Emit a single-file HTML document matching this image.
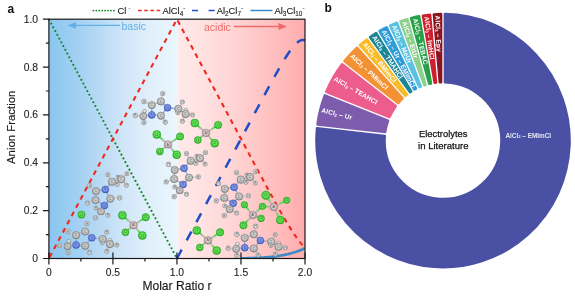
<!DOCTYPE html>
<html><head><meta charset="utf-8">
<style>
html,body{margin:0;padding:0;background:#fff;}
body{width:575px;height:296px;overflow:hidden;}
svg{display:block;will-change:transform;}
text{font-family:"Liberation Sans",sans-serif;}
</style></head><body>
<svg width="575" height="296" viewBox="0 0 575 296">
<defs>
<linearGradient id="gb" x1="0" x2="1" y1="0" y2="0"><stop offset="0.000" stop-color="#89c6ef"/><stop offset="0.242" stop-color="#a5d1f2"/><stop offset="0.428" stop-color="#bcdcf5"/><stop offset="0.552" stop-color="#cde4f8"/><stop offset="0.708" stop-color="#dcecfa"/><stop offset="0.863" stop-color="#e4f2fc"/><stop offset="1.000" stop-color="#eaf6fd"/></linearGradient>
<linearGradient id="gr" x1="0" x2="1" y1="0" y2="0"><stop offset="0.000" stop-color="#ffe9e9"/><stop offset="0.125" stop-color="#ffe5e5"/><stop offset="0.250" stop-color="#ffdfdf"/><stop offset="0.375" stop-color="#ffd8d8"/><stop offset="0.500" stop-color="#ffd0d0"/><stop offset="0.625" stop-color="#ffc8c8"/><stop offset="0.750" stop-color="#ffbfbf"/><stop offset="0.875" stop-color="#ffb6b6"/><stop offset="1.000" stop-color="#ffacac"/></linearGradient>
<radialGradient id="aC" cx="0.5" cy="0.45" r="0.55"><stop offset="0" stop-color="#d8d8d8"/><stop offset="0.55" stop-color="#c2c2c2"/><stop offset="0.8" stop-color="#a4a4a4"/><stop offset="1" stop-color="#777"/></radialGradient>
<radialGradient id="aN" cx="0.5" cy="0.45" r="0.55"><stop offset="0" stop-color="#98aef2"/><stop offset="0.55" stop-color="#7690e8"/><stop offset="0.8" stop-color="#5573da"/><stop offset="1" stop-color="#3450b0"/></radialGradient>
<radialGradient id="aH" cx="0.5" cy="0.45" r="0.55"><stop offset="0" stop-color="#ececec"/><stop offset="0.5" stop-color="#dadada"/><stop offset="0.8" stop-color="#bdbdbd"/><stop offset="1" stop-color="#8a8a8a"/></radialGradient>
<radialGradient id="aCl" cx="0.5" cy="0.45" r="0.55"><stop offset="0" stop-color="#80ea70"/><stop offset="0.55" stop-color="#52dc46"/><stop offset="0.8" stop-color="#3cc834"/><stop offset="1" stop-color="#1f961c"/></radialGradient>
<radialGradient id="aAl" cx="0.5" cy="0.45" r="0.55"><stop offset="0" stop-color="#e2d6d6"/><stop offset="0.55" stop-color="#d0c2c2"/><stop offset="0.8" stop-color="#b8a6a6"/><stop offset="1" stop-color="#86767a"/></radialGradient>
</defs>

<rect x="48.9" y="19.2" width="128.60" height="239.30" fill="url(#gb)"/>
<rect x="177.50" y="19.2" width="127.50" height="239.30" fill="url(#gr)"/>
<g stroke="#62b0e6" fill="#62b0e6"><line x1="75" y1="25.4" x2="120" y2="25.4" stroke-width="1.3"/><path d="M67.5,25.4 L76,22 L76,28.8 Z" stroke="none"/></g>
<text x="121.5" y="29.6" font-size="10.5" fill="#62b0e6">basic</text>
<g stroke="#ee6b6b" fill="#ee6b6b"><line x1="234" y1="26.5" x2="280" y2="26.5" stroke-width="1.3"/><path d="M287,26.5 L278.5,23.1 L278.5,29.9 Z" stroke="none"/></g>
<text x="204" y="30.5" font-size="10.5" fill="#ee6b6b">acidic</text>
<clipPath id="pc"><rect x="48.9" y="19.2" width="256.10" height="238.70"/></clipPath>
<path d="M240.98,258.34 L241.78,258.33 L242.58,258.31 L243.38,258.30 L244.18,258.28 L244.98,258.27 L245.78,258.25 L246.58,258.23 L247.38,258.22 L248.18,258.20 L248.98,258.17 L249.78,258.15 L250.58,258.13 L251.38,258.10 L252.18,258.08 L252.98,258.05 L253.78,258.02 L254.58,257.99 L255.38,257.96 L256.18,257.92 L256.98,257.89 L257.78,257.85 L258.58,257.81 L259.38,257.77 L260.18,257.72 L260.98,257.68 L261.78,257.63 L262.58,257.58 L263.38,257.53 L264.18,257.47 L264.98,257.41 L265.78,257.35 L266.58,257.29 L267.39,257.22 L268.19,257.15 L268.99,257.08 L269.79,257.01 L270.59,256.93 L271.39,256.84 L272.19,256.76 L272.99,256.67 L273.79,256.58 L274.59,256.48 L275.39,256.38 L276.19,256.27 L276.99,256.16 L277.79,256.05 L278.59,255.93 L279.39,255.80 L280.19,255.67 L280.99,255.54 L281.79,255.40 L282.59,255.26 L283.39,255.11 L284.19,254.95 L284.99,254.79 L285.79,254.62 L286.59,254.44 L287.39,254.26 L288.19,254.08 L288.99,253.88 L289.79,253.68 L290.59,253.47 L291.39,253.26 L292.19,253.03 L293.00,252.80 L293.80,252.56 L294.60,252.31 L295.40,252.05 L296.20,251.79 L297.00,251.51 L297.80,251.23 L298.60,250.94 L299.40,250.63 L300.20,250.32 L301.00,249.99 L301.80,249.66 L302.60,249.31 L303.40,248.96 L304.20,248.59 L305.00,248.21" fill="none" stroke="#3d8cc8" stroke-width="2.7" clip-path="url(#pc)"/>
<line x1="48.9" y1="19.19999999999999" x2="176.95000000000002" y2="258.5" stroke="#138a1f" stroke-width="2.2" stroke-dasharray="0 4.248" stroke-dashoffset="-5.0" stroke-linecap="round"/>
<path d="M48.9,258.5 L176.95,19.20 178.55,22.19 180.15,25.18 181.75,28.17 183.35,31.16 184.95,34.16 186.55,37.15 188.15,40.14 189.76,43.13 191.36,46.12 192.96,49.11 194.56,52.10 196.16,55.09 197.76,58.09 199.36,61.08 200.96,64.07 202.56,67.06 204.16,70.05 205.76,73.04 207.36,76.03 208.96,79.02 210.56,82.02 212.16,85.01 213.76,88.00 215.37,90.99 216.97,93.98 218.57,96.97 220.17,99.96 221.77,102.95 223.37,105.95 224.97,108.94 226.57,111.93 228.17,114.92 229.77,117.91 231.37,120.90 232.97,123.89 234.57,126.88 236.17,129.87 237.77,132.86 239.37,135.85 240.98,138.84 242.58,141.83 244.18,144.82 245.78,147.81 247.38,150.80 248.98,153.79 250.58,156.77 252.18,159.76 253.78,162.74 255.38,165.72 256.98,168.70 258.58,171.67 260.18,174.65 261.78,177.62 263.38,180.58 264.98,183.54 266.58,186.49 268.19,189.43 269.79,192.37 271.39,195.29 272.99,198.21 274.59,201.11 276.19,203.99 277.79,206.85 279.39,209.69 280.99,212.51 282.59,215.30 284.19,218.06 285.79,220.77 287.39,223.45 288.99,226.08 290.59,228.65 292.19,231.15 293.80,233.59 295.40,235.95 297.00,238.21 298.60,240.38 300.20,242.43 301.80,244.35 303.40,246.12 305.00,247.73" fill="none" stroke="#f02a1e" stroke-width="2.1" stroke-dasharray="4.8 4.56" stroke-dashoffset="-1.36"/>
<path d="M176.95,258.50 L178.55,255.51 L180.15,252.52 L181.75,249.53 L183.35,246.53 L184.95,243.54 L186.55,240.55 L188.15,237.56 L189.76,234.57 L191.36,231.58 L192.96,228.59 L194.56,225.60 L196.16,222.61 L197.76,219.61 L199.36,216.62 L200.96,213.63 L202.56,210.64 L204.16,207.65 L205.76,204.66 L207.36,201.67 L208.96,198.68 L210.56,195.68 L212.16,192.69 L213.76,189.70 L215.37,186.71 L216.97,183.72 L218.57,180.73 L220.17,177.74 L221.77,174.75 L223.37,171.75 L224.97,168.76 L226.57,165.77 L228.17,162.78 L229.77,159.79 L231.37,156.80 L232.97,153.81 L234.57,150.82 L236.17,147.82 L237.77,144.83 L239.37,141.84 L240.98,138.85 L242.58,135.86 L244.18,132.87 L245.78,129.88 L247.38,126.89 L248.98,123.90 L250.58,120.91 L252.18,117.92 L253.78,114.94 L255.38,111.95 L256.98,108.97 L258.58,105.99 L260.18,103.01 L261.78,100.03 L263.38,97.06 L264.98,94.09 L266.58,91.13 L268.19,88.18 L269.79,85.24 L271.39,82.31 L272.99,79.40 L274.59,76.51 L276.19,73.64 L277.79,70.80 L279.39,67.99 L280.99,65.23 L282.59,62.51 L284.19,59.86 L285.79,57.27 L287.39,54.78 L288.99,52.38 L290.59,50.11 L292.19,47.98 L293.80,46.02 L295.40,44.27 L297.00,42.75 L298.60,41.50 L300.20,40.59 L301.80,40.06 L303.40,39.97 L305.00,40.40" fill="none" stroke="#1f4ec6" stroke-width="2.5" stroke-dasharray="10 10.6"/>
<g><line x1="85.20" y1="231.60" x2="80.65" y2="233.40" stroke="#b4b4b4" stroke-width="1.4"/><line x1="80.65" y1="233.40" x2="76.10" y2="235.20" stroke="#b4b4b4" stroke-width="1.4"/><line x1="76.10" y1="235.20" x2="76.10" y2="240.10" stroke="#b4b4b4" stroke-width="1.4"/><line x1="76.10" y1="240.10" x2="76.10" y2="245.00" stroke="#8aa0e4" stroke-width="1.4"/><line x1="76.10" y1="245.00" x2="80.65" y2="245.40" stroke="#8aa0e4" stroke-width="1.4"/><line x1="80.65" y1="245.40" x2="85.20" y2="245.80" stroke="#b4b4b4" stroke-width="1.4"/><line x1="85.20" y1="245.80" x2="88.50" y2="241.80" stroke="#b4b4b4" stroke-width="1.4"/><line x1="88.50" y1="241.80" x2="91.80" y2="237.80" stroke="#8aa0e4" stroke-width="1.4"/><line x1="91.80" y1="237.80" x2="88.50" y2="234.70" stroke="#8aa0e4" stroke-width="1.4"/><line x1="88.50" y1="234.70" x2="85.20" y2="231.60" stroke="#b4b4b4" stroke-width="1.4"/><line x1="85.20" y1="231.60" x2="86.10" y2="227.60" stroke="#b4b4b4" stroke-width="1.4"/><line x1="86.10" y1="227.60" x2="87.00" y2="223.60" stroke="#d0d0d0" stroke-width="1.4"/><line x1="76.10" y1="235.20" x2="72.15" y2="233.40" stroke="#b4b4b4" stroke-width="1.4"/><line x1="72.15" y1="233.40" x2="68.20" y2="231.60" stroke="#d0d0d0" stroke-width="1.4"/><line x1="85.20" y1="245.80" x2="87.40" y2="249.05" stroke="#b4b4b4" stroke-width="1.4"/><line x1="87.40" y1="249.05" x2="89.60" y2="252.30" stroke="#d0d0d0" stroke-width="1.4"/><line x1="76.10" y1="245.00" x2="71.85" y2="245.60" stroke="#8aa0e4" stroke-width="1.4"/><line x1="71.85" y1="245.60" x2="67.60" y2="246.20" stroke="#b4b4b4" stroke-width="1.4"/><line x1="67.60" y1="246.20" x2="63.60" y2="245.85" stroke="#b4b4b4" stroke-width="1.4"/><line x1="63.60" y1="245.85" x2="59.60" y2="245.50" stroke="#d0d0d0" stroke-width="1.4"/><line x1="67.60" y1="246.20" x2="68.20" y2="243.75" stroke="#b4b4b4" stroke-width="1.4"/><line x1="68.20" y1="243.75" x2="68.80" y2="241.30" stroke="#d0d0d0" stroke-width="1.4"/><line x1="67.60" y1="246.20" x2="67.90" y2="249.40" stroke="#b4b4b4" stroke-width="1.4"/><line x1="67.90" y1="249.40" x2="68.20" y2="252.60" stroke="#d0d0d0" stroke-width="1.4"/><line x1="91.80" y1="237.80" x2="97.25" y2="238.40" stroke="#8aa0e4" stroke-width="1.4"/><line x1="97.25" y1="238.40" x2="102.70" y2="239.00" stroke="#b4b4b4" stroke-width="1.4"/><line x1="102.70" y1="239.00" x2="104.70" y2="235.55" stroke="#b4b4b4" stroke-width="1.4"/><line x1="104.70" y1="235.55" x2="106.70" y2="232.10" stroke="#d0d0d0" stroke-width="1.4"/><line x1="102.70" y1="239.00" x2="102.40" y2="240.95" stroke="#b4b4b4" stroke-width="1.4"/><line x1="102.40" y1="240.95" x2="102.10" y2="242.90" stroke="#d0d0d0" stroke-width="1.4"/><line x1="102.70" y1="239.00" x2="106.30" y2="241.55" stroke="#b4b4b4" stroke-width="1.4"/><line x1="106.30" y1="241.55" x2="109.90" y2="244.10" stroke="#b4b4b4" stroke-width="1.4"/><line x1="109.90" y1="244.10" x2="110.00" y2="242.15" stroke="#b4b4b4" stroke-width="1.4"/><line x1="110.00" y1="242.15" x2="110.10" y2="240.20" stroke="#d0d0d0" stroke-width="1.4"/><line x1="109.90" y1="244.10" x2="113.35" y2="244.55" stroke="#b4b4b4" stroke-width="1.4"/><line x1="113.35" y1="244.55" x2="116.80" y2="245.00" stroke="#d0d0d0" stroke-width="1.4"/><line x1="109.90" y1="244.10" x2="108.30" y2="247.70" stroke="#b4b4b4" stroke-width="1.4"/><line x1="108.30" y1="247.70" x2="106.70" y2="251.30" stroke="#d0d0d0" stroke-width="1.4"/><circle cx="68.80" cy="241.30" r="1.95" fill="url(#aH)" stroke="#8e8e8e" stroke-width="0.45"/><circle cx="110.10" cy="240.20" r="1.95" fill="url(#aH)" stroke="#8e8e8e" stroke-width="0.45"/><circle cx="87.00" cy="223.60" r="2.35" fill="url(#aH)" stroke="#8e8e8e" stroke-width="0.45"/><text x="87.00" y="224.60" font-size="2.8" fill="#2a2a2a" fill-opacity="0.8" text-anchor="middle">H</text><circle cx="68.20" cy="231.60" r="2.45" fill="url(#aH)" stroke="#8e8e8e" stroke-width="0.45"/><text x="68.20" y="232.60" font-size="2.8" fill="#2a2a2a" fill-opacity="0.8" text-anchor="middle">H</text><circle cx="89.60" cy="252.30" r="2.35" fill="url(#aH)" stroke="#8e8e8e" stroke-width="0.45"/><text x="89.60" y="253.30" font-size="2.8" fill="#2a2a2a" fill-opacity="0.8" text-anchor="middle">H</text><circle cx="59.60" cy="245.50" r="2.35" fill="url(#aH)" stroke="#8e8e8e" stroke-width="0.45"/><text x="59.60" y="246.50" font-size="2.8" fill="#2a2a2a" fill-opacity="0.8" text-anchor="middle">H</text><circle cx="68.20" cy="252.60" r="2.35" fill="url(#aH)" stroke="#8e8e8e" stroke-width="0.45"/><text x="68.20" y="253.60" font-size="2.8" fill="#2a2a2a" fill-opacity="0.8" text-anchor="middle">H</text><circle cx="106.70" cy="232.10" r="2.25" fill="url(#aH)" stroke="#8e8e8e" stroke-width="0.45"/><text x="106.70" y="233.10" font-size="2.8" fill="#2a2a2a" fill-opacity="0.8" text-anchor="middle">H</text><circle cx="116.80" cy="245.00" r="2.25" fill="url(#aH)" stroke="#8e8e8e" stroke-width="0.45"/><text x="116.80" y="246.00" font-size="2.8" fill="#2a2a2a" fill-opacity="0.8" text-anchor="middle">H</text><circle cx="106.70" cy="251.30" r="2.25" fill="url(#aH)" stroke="#8e8e8e" stroke-width="0.45"/><text x="106.70" y="252.30" font-size="2.8" fill="#2a2a2a" fill-opacity="0.8" text-anchor="middle">H</text><circle cx="85.20" cy="231.60" r="3.70" fill="url(#aC)" stroke="#7a7a7a" stroke-width="0.45"/><text x="85.20" y="232.60" font-size="2.8" fill="#2a2a2a" fill-opacity="0.8" text-anchor="middle">C</text><circle cx="76.10" cy="235.20" r="3.70" fill="url(#aC)" stroke="#7a7a7a" stroke-width="0.45"/><text x="76.10" y="236.20" font-size="2.8" fill="#2a2a2a" fill-opacity="0.8" text-anchor="middle">C</text><circle cx="76.10" cy="245.00" r="3.50" fill="url(#aN)" stroke="#3a55b0" stroke-width="0.45"/><text x="76.10" y="246.00" font-size="2.8" fill="#2a2a2a" fill-opacity="0.8" text-anchor="middle">N</text><circle cx="85.20" cy="245.80" r="3.70" fill="url(#aC)" stroke="#7a7a7a" stroke-width="0.45"/><text x="85.20" y="246.80" font-size="2.8" fill="#2a2a2a" fill-opacity="0.8" text-anchor="middle">C</text><circle cx="91.80" cy="237.80" r="3.50" fill="url(#aN)" stroke="#3a55b0" stroke-width="0.45"/><text x="91.80" y="238.80" font-size="2.8" fill="#2a2a2a" fill-opacity="0.8" text-anchor="middle">N</text><circle cx="67.60" cy="246.20" r="3.60" fill="url(#aC)" stroke="#7a7a7a" stroke-width="0.45"/><text x="67.60" y="247.20" font-size="2.8" fill="#2a2a2a" fill-opacity="0.8" text-anchor="middle">C</text><circle cx="102.70" cy="239.00" r="3.80" fill="url(#aC)" stroke="#7a7a7a" stroke-width="0.45"/><text x="102.70" y="240.00" font-size="2.8" fill="#2a2a2a" fill-opacity="0.8" text-anchor="middle">C</text><circle cx="109.90" cy="244.10" r="3.80" fill="url(#aC)" stroke="#7a7a7a" stroke-width="0.45"/><text x="109.90" y="245.10" font-size="2.8" fill="#2a2a2a" fill-opacity="0.8" text-anchor="middle">C</text><circle cx="102.10" cy="242.90" r="2.15" fill="url(#aH)" stroke="#8e8e8e" stroke-width="0.45"/><text x="102.10" y="243.90" font-size="2.8" fill="#2a2a2a" fill-opacity="0.8" text-anchor="middle">H</text><line x1="160.90" y1="101.50" x2="156.35" y2="103.30" stroke="#b4b4b4" stroke-width="1.4"/><line x1="156.35" y1="103.30" x2="151.80" y2="105.10" stroke="#b4b4b4" stroke-width="1.4"/><line x1="151.80" y1="105.10" x2="151.80" y2="110.00" stroke="#b4b4b4" stroke-width="1.4"/><line x1="151.80" y1="110.00" x2="151.80" y2="114.90" stroke="#8aa0e4" stroke-width="1.4"/><line x1="151.80" y1="114.90" x2="156.35" y2="115.30" stroke="#8aa0e4" stroke-width="1.4"/><line x1="156.35" y1="115.30" x2="160.90" y2="115.70" stroke="#b4b4b4" stroke-width="1.4"/><line x1="160.90" y1="115.70" x2="164.20" y2="111.70" stroke="#b4b4b4" stroke-width="1.4"/><line x1="164.20" y1="111.70" x2="167.50" y2="107.70" stroke="#8aa0e4" stroke-width="1.4"/><line x1="167.50" y1="107.70" x2="164.20" y2="104.60" stroke="#8aa0e4" stroke-width="1.4"/><line x1="164.20" y1="104.60" x2="160.90" y2="101.50" stroke="#b4b4b4" stroke-width="1.4"/><line x1="160.90" y1="101.50" x2="161.80" y2="97.50" stroke="#b4b4b4" stroke-width="1.4"/><line x1="161.80" y1="97.50" x2="162.70" y2="93.50" stroke="#d0d0d0" stroke-width="1.4"/><line x1="151.80" y1="105.10" x2="147.85" y2="103.30" stroke="#b4b4b4" stroke-width="1.4"/><line x1="147.85" y1="103.30" x2="143.90" y2="101.50" stroke="#d0d0d0" stroke-width="1.4"/><line x1="160.90" y1="115.70" x2="163.10" y2="118.95" stroke="#b4b4b4" stroke-width="1.4"/><line x1="163.10" y1="118.95" x2="165.30" y2="122.20" stroke="#d0d0d0" stroke-width="1.4"/><line x1="151.80" y1="114.90" x2="147.55" y2="115.50" stroke="#8aa0e4" stroke-width="1.4"/><line x1="147.55" y1="115.50" x2="143.30" y2="116.10" stroke="#b4b4b4" stroke-width="1.4"/><line x1="143.30" y1="116.10" x2="139.30" y2="115.75" stroke="#b4b4b4" stroke-width="1.4"/><line x1="139.30" y1="115.75" x2="135.30" y2="115.40" stroke="#d0d0d0" stroke-width="1.4"/><line x1="143.30" y1="116.10" x2="143.90" y2="113.65" stroke="#b4b4b4" stroke-width="1.4"/><line x1="143.90" y1="113.65" x2="144.50" y2="111.20" stroke="#d0d0d0" stroke-width="1.4"/><line x1="143.30" y1="116.10" x2="143.60" y2="119.30" stroke="#b4b4b4" stroke-width="1.4"/><line x1="143.60" y1="119.30" x2="143.90" y2="122.50" stroke="#d0d0d0" stroke-width="1.4"/><line x1="167.50" y1="107.70" x2="172.95" y2="108.30" stroke="#8aa0e4" stroke-width="1.4"/><line x1="172.95" y1="108.30" x2="178.40" y2="108.90" stroke="#b4b4b4" stroke-width="1.4"/><line x1="178.40" y1="108.90" x2="180.40" y2="105.45" stroke="#b4b4b4" stroke-width="1.4"/><line x1="180.40" y1="105.45" x2="182.40" y2="102.00" stroke="#d0d0d0" stroke-width="1.4"/><line x1="178.40" y1="108.90" x2="178.10" y2="110.85" stroke="#b4b4b4" stroke-width="1.4"/><line x1="178.10" y1="110.85" x2="177.80" y2="112.80" stroke="#d0d0d0" stroke-width="1.4"/><line x1="178.40" y1="108.90" x2="182.00" y2="111.45" stroke="#b4b4b4" stroke-width="1.4"/><line x1="182.00" y1="111.45" x2="185.60" y2="114.00" stroke="#b4b4b4" stroke-width="1.4"/><line x1="185.60" y1="114.00" x2="185.70" y2="112.05" stroke="#b4b4b4" stroke-width="1.4"/><line x1="185.70" y1="112.05" x2="185.80" y2="110.10" stroke="#d0d0d0" stroke-width="1.4"/><line x1="185.60" y1="114.00" x2="189.05" y2="114.45" stroke="#b4b4b4" stroke-width="1.4"/><line x1="189.05" y1="114.45" x2="192.50" y2="114.90" stroke="#d0d0d0" stroke-width="1.4"/><line x1="185.60" y1="114.00" x2="184.00" y2="117.60" stroke="#b4b4b4" stroke-width="1.4"/><line x1="184.00" y1="117.60" x2="182.40" y2="121.20" stroke="#d0d0d0" stroke-width="1.4"/><circle cx="144.50" cy="111.20" r="1.95" fill="url(#aH)" stroke="#8e8e8e" stroke-width="0.45"/><circle cx="185.80" cy="110.10" r="1.95" fill="url(#aH)" stroke="#8e8e8e" stroke-width="0.45"/><circle cx="162.70" cy="93.50" r="2.35" fill="url(#aH)" stroke="#8e8e8e" stroke-width="0.45"/><text x="162.70" y="94.50" font-size="2.8" fill="#2a2a2a" fill-opacity="0.8" text-anchor="middle">H</text><circle cx="143.90" cy="101.50" r="2.45" fill="url(#aH)" stroke="#8e8e8e" stroke-width="0.45"/><text x="143.90" y="102.50" font-size="2.8" fill="#2a2a2a" fill-opacity="0.8" text-anchor="middle">H</text><circle cx="165.30" cy="122.20" r="2.35" fill="url(#aH)" stroke="#8e8e8e" stroke-width="0.45"/><text x="165.30" y="123.20" font-size="2.8" fill="#2a2a2a" fill-opacity="0.8" text-anchor="middle">H</text><circle cx="135.30" cy="115.40" r="2.35" fill="url(#aH)" stroke="#8e8e8e" stroke-width="0.45"/><text x="135.30" y="116.40" font-size="2.8" fill="#2a2a2a" fill-opacity="0.8" text-anchor="middle">H</text><circle cx="143.90" cy="122.50" r="2.35" fill="url(#aH)" stroke="#8e8e8e" stroke-width="0.45"/><text x="143.90" y="123.50" font-size="2.8" fill="#2a2a2a" fill-opacity="0.8" text-anchor="middle">H</text><circle cx="182.40" cy="102.00" r="2.25" fill="url(#aH)" stroke="#8e8e8e" stroke-width="0.45"/><text x="182.40" y="103.00" font-size="2.8" fill="#2a2a2a" fill-opacity="0.8" text-anchor="middle">H</text><circle cx="192.50" cy="114.90" r="2.25" fill="url(#aH)" stroke="#8e8e8e" stroke-width="0.45"/><text x="192.50" y="115.90" font-size="2.8" fill="#2a2a2a" fill-opacity="0.8" text-anchor="middle">H</text><circle cx="182.40" cy="121.20" r="2.25" fill="url(#aH)" stroke="#8e8e8e" stroke-width="0.45"/><text x="182.40" y="122.20" font-size="2.8" fill="#2a2a2a" fill-opacity="0.8" text-anchor="middle">H</text><circle cx="160.90" cy="101.50" r="3.70" fill="url(#aC)" stroke="#7a7a7a" stroke-width="0.45"/><text x="160.90" y="102.50" font-size="2.8" fill="#2a2a2a" fill-opacity="0.8" text-anchor="middle">C</text><circle cx="151.80" cy="105.10" r="3.70" fill="url(#aC)" stroke="#7a7a7a" stroke-width="0.45"/><text x="151.80" y="106.10" font-size="2.8" fill="#2a2a2a" fill-opacity="0.8" text-anchor="middle">C</text><circle cx="151.80" cy="114.90" r="3.50" fill="url(#aN)" stroke="#3a55b0" stroke-width="0.45"/><text x="151.80" y="115.90" font-size="2.8" fill="#2a2a2a" fill-opacity="0.8" text-anchor="middle">N</text><circle cx="160.90" cy="115.70" r="3.70" fill="url(#aC)" stroke="#7a7a7a" stroke-width="0.45"/><text x="160.90" y="116.70" font-size="2.8" fill="#2a2a2a" fill-opacity="0.8" text-anchor="middle">C</text><circle cx="167.50" cy="107.70" r="3.50" fill="url(#aN)" stroke="#3a55b0" stroke-width="0.45"/><text x="167.50" y="108.70" font-size="2.8" fill="#2a2a2a" fill-opacity="0.8" text-anchor="middle">N</text><circle cx="143.30" cy="116.10" r="3.60" fill="url(#aC)" stroke="#7a7a7a" stroke-width="0.45"/><text x="143.30" y="117.10" font-size="2.8" fill="#2a2a2a" fill-opacity="0.8" text-anchor="middle">C</text><circle cx="178.40" cy="108.90" r="3.80" fill="url(#aC)" stroke="#7a7a7a" stroke-width="0.45"/><text x="178.40" y="109.90" font-size="2.8" fill="#2a2a2a" fill-opacity="0.8" text-anchor="middle">C</text><circle cx="185.60" cy="114.00" r="3.80" fill="url(#aC)" stroke="#7a7a7a" stroke-width="0.45"/><text x="185.60" y="115.00" font-size="2.8" fill="#2a2a2a" fill-opacity="0.8" text-anchor="middle">C</text><circle cx="177.80" cy="112.80" r="2.15" fill="url(#aH)" stroke="#8e8e8e" stroke-width="0.45"/><text x="177.80" y="113.80" font-size="2.8" fill="#2a2a2a" fill-opacity="0.8" text-anchor="middle">H</text><line x1="253.80" y1="234.30" x2="249.25" y2="236.10" stroke="#b4b4b4" stroke-width="1.4"/><line x1="249.25" y1="236.10" x2="244.70" y2="237.90" stroke="#b4b4b4" stroke-width="1.4"/><line x1="244.70" y1="237.90" x2="244.70" y2="242.80" stroke="#b4b4b4" stroke-width="1.4"/><line x1="244.70" y1="242.80" x2="244.70" y2="247.70" stroke="#8aa0e4" stroke-width="1.4"/><line x1="244.70" y1="247.70" x2="249.25" y2="248.10" stroke="#8aa0e4" stroke-width="1.4"/><line x1="249.25" y1="248.10" x2="253.80" y2="248.50" stroke="#b4b4b4" stroke-width="1.4"/><line x1="253.80" y1="248.50" x2="257.10" y2="244.50" stroke="#b4b4b4" stroke-width="1.4"/><line x1="257.10" y1="244.50" x2="260.40" y2="240.50" stroke="#8aa0e4" stroke-width="1.4"/><line x1="260.40" y1="240.50" x2="257.10" y2="237.40" stroke="#8aa0e4" stroke-width="1.4"/><line x1="257.10" y1="237.40" x2="253.80" y2="234.30" stroke="#b4b4b4" stroke-width="1.4"/><line x1="253.80" y1="234.30" x2="254.70" y2="230.30" stroke="#b4b4b4" stroke-width="1.4"/><line x1="254.70" y1="230.30" x2="255.60" y2="226.30" stroke="#d0d0d0" stroke-width="1.4"/><line x1="244.70" y1="237.90" x2="240.75" y2="236.10" stroke="#b4b4b4" stroke-width="1.4"/><line x1="240.75" y1="236.10" x2="236.80" y2="234.30" stroke="#d0d0d0" stroke-width="1.4"/><line x1="253.80" y1="248.50" x2="256.00" y2="251.75" stroke="#b4b4b4" stroke-width="1.4"/><line x1="256.00" y1="251.75" x2="258.20" y2="255.00" stroke="#d0d0d0" stroke-width="1.4"/><line x1="244.70" y1="247.70" x2="240.45" y2="248.30" stroke="#8aa0e4" stroke-width="1.4"/><line x1="240.45" y1="248.30" x2="236.20" y2="248.90" stroke="#b4b4b4" stroke-width="1.4"/><line x1="236.20" y1="248.90" x2="232.20" y2="248.55" stroke="#b4b4b4" stroke-width="1.4"/><line x1="232.20" y1="248.55" x2="228.20" y2="248.20" stroke="#d0d0d0" stroke-width="1.4"/><line x1="236.20" y1="248.90" x2="236.80" y2="246.45" stroke="#b4b4b4" stroke-width="1.4"/><line x1="236.80" y1="246.45" x2="237.40" y2="244.00" stroke="#d0d0d0" stroke-width="1.4"/><line x1="236.20" y1="248.90" x2="236.50" y2="252.10" stroke="#b4b4b4" stroke-width="1.4"/><line x1="236.50" y1="252.10" x2="236.80" y2="255.30" stroke="#d0d0d0" stroke-width="1.4"/><line x1="260.40" y1="240.50" x2="265.85" y2="241.10" stroke="#8aa0e4" stroke-width="1.4"/><line x1="265.85" y1="241.10" x2="271.30" y2="241.70" stroke="#b4b4b4" stroke-width="1.4"/><line x1="271.30" y1="241.70" x2="273.30" y2="238.25" stroke="#b4b4b4" stroke-width="1.4"/><line x1="273.30" y1="238.25" x2="275.30" y2="234.80" stroke="#d0d0d0" stroke-width="1.4"/><line x1="271.30" y1="241.70" x2="271.00" y2="243.65" stroke="#b4b4b4" stroke-width="1.4"/><line x1="271.00" y1="243.65" x2="270.70" y2="245.60" stroke="#d0d0d0" stroke-width="1.4"/><line x1="271.30" y1="241.70" x2="274.90" y2="244.25" stroke="#b4b4b4" stroke-width="1.4"/><line x1="274.90" y1="244.25" x2="278.50" y2="246.80" stroke="#b4b4b4" stroke-width="1.4"/><line x1="278.50" y1="246.80" x2="278.60" y2="244.85" stroke="#b4b4b4" stroke-width="1.4"/><line x1="278.60" y1="244.85" x2="278.70" y2="242.90" stroke="#d0d0d0" stroke-width="1.4"/><line x1="278.50" y1="246.80" x2="281.95" y2="247.25" stroke="#b4b4b4" stroke-width="1.4"/><line x1="281.95" y1="247.25" x2="285.40" y2="247.70" stroke="#d0d0d0" stroke-width="1.4"/><line x1="278.50" y1="246.80" x2="276.90" y2="250.40" stroke="#b4b4b4" stroke-width="1.4"/><line x1="276.90" y1="250.40" x2="275.30" y2="254.00" stroke="#d0d0d0" stroke-width="1.4"/><circle cx="237.40" cy="244.00" r="1.95" fill="url(#aH)" stroke="#8e8e8e" stroke-width="0.45"/><circle cx="278.70" cy="242.90" r="1.95" fill="url(#aH)" stroke="#8e8e8e" stroke-width="0.45"/><circle cx="255.60" cy="226.30" r="2.35" fill="url(#aH)" stroke="#8e8e8e" stroke-width="0.45"/><text x="255.60" y="227.30" font-size="2.8" fill="#2a2a2a" fill-opacity="0.8" text-anchor="middle">H</text><circle cx="236.80" cy="234.30" r="2.45" fill="url(#aH)" stroke="#8e8e8e" stroke-width="0.45"/><text x="236.80" y="235.30" font-size="2.8" fill="#2a2a2a" fill-opacity="0.8" text-anchor="middle">H</text><circle cx="258.20" cy="255.00" r="2.35" fill="url(#aH)" stroke="#8e8e8e" stroke-width="0.45"/><text x="258.20" y="256.00" font-size="2.8" fill="#2a2a2a" fill-opacity="0.8" text-anchor="middle">H</text><circle cx="228.20" cy="248.20" r="2.35" fill="url(#aH)" stroke="#8e8e8e" stroke-width="0.45"/><text x="228.20" y="249.20" font-size="2.8" fill="#2a2a2a" fill-opacity="0.8" text-anchor="middle">H</text><circle cx="236.80" cy="255.30" r="2.35" fill="url(#aH)" stroke="#8e8e8e" stroke-width="0.45"/><text x="236.80" y="256.30" font-size="2.8" fill="#2a2a2a" fill-opacity="0.8" text-anchor="middle">H</text><circle cx="275.30" cy="234.80" r="2.25" fill="url(#aH)" stroke="#8e8e8e" stroke-width="0.45"/><text x="275.30" y="235.80" font-size="2.8" fill="#2a2a2a" fill-opacity="0.8" text-anchor="middle">H</text><circle cx="285.40" cy="247.70" r="2.25" fill="url(#aH)" stroke="#8e8e8e" stroke-width="0.45"/><text x="285.40" y="248.70" font-size="2.8" fill="#2a2a2a" fill-opacity="0.8" text-anchor="middle">H</text><circle cx="275.30" cy="254.00" r="2.25" fill="url(#aH)" stroke="#8e8e8e" stroke-width="0.45"/><text x="275.30" y="255.00" font-size="2.8" fill="#2a2a2a" fill-opacity="0.8" text-anchor="middle">H</text><circle cx="253.80" cy="234.30" r="3.70" fill="url(#aC)" stroke="#7a7a7a" stroke-width="0.45"/><text x="253.80" y="235.30" font-size="2.8" fill="#2a2a2a" fill-opacity="0.8" text-anchor="middle">C</text><circle cx="244.70" cy="237.90" r="3.70" fill="url(#aC)" stroke="#7a7a7a" stroke-width="0.45"/><text x="244.70" y="238.90" font-size="2.8" fill="#2a2a2a" fill-opacity="0.8" text-anchor="middle">C</text><circle cx="244.70" cy="247.70" r="3.50" fill="url(#aN)" stroke="#3a55b0" stroke-width="0.45"/><text x="244.70" y="248.70" font-size="2.8" fill="#2a2a2a" fill-opacity="0.8" text-anchor="middle">N</text><circle cx="253.80" cy="248.50" r="3.70" fill="url(#aC)" stroke="#7a7a7a" stroke-width="0.45"/><text x="253.80" y="249.50" font-size="2.8" fill="#2a2a2a" fill-opacity="0.8" text-anchor="middle">C</text><circle cx="260.40" cy="240.50" r="3.50" fill="url(#aN)" stroke="#3a55b0" stroke-width="0.45"/><text x="260.40" y="241.50" font-size="2.8" fill="#2a2a2a" fill-opacity="0.8" text-anchor="middle">N</text><circle cx="236.20" cy="248.90" r="3.60" fill="url(#aC)" stroke="#7a7a7a" stroke-width="0.45"/><text x="236.20" y="249.90" font-size="2.8" fill="#2a2a2a" fill-opacity="0.8" text-anchor="middle">C</text><circle cx="271.30" cy="241.70" r="3.80" fill="url(#aC)" stroke="#7a7a7a" stroke-width="0.45"/><text x="271.30" y="242.70" font-size="2.8" fill="#2a2a2a" fill-opacity="0.8" text-anchor="middle">C</text><circle cx="278.50" cy="246.80" r="3.80" fill="url(#aC)" stroke="#7a7a7a" stroke-width="0.45"/><text x="278.50" y="247.80" font-size="2.8" fill="#2a2a2a" fill-opacity="0.8" text-anchor="middle">C</text><circle cx="270.70" cy="245.60" r="2.15" fill="url(#aH)" stroke="#8e8e8e" stroke-width="0.45"/><text x="270.70" y="246.60" font-size="2.8" fill="#2a2a2a" fill-opacity="0.8" text-anchor="middle">H</text><line x1="105.30" y1="189.40" x2="100.65" y2="190.25" stroke="#8aa0e4" stroke-width="1.4"/><line x1="100.65" y1="190.25" x2="96.00" y2="191.10" stroke="#b4b4b4" stroke-width="1.4"/><line x1="96.00" y1="191.10" x2="95.75" y2="195.60" stroke="#b4b4b4" stroke-width="1.4"/><line x1="95.75" y1="195.60" x2="95.50" y2="200.10" stroke="#b4b4b4" stroke-width="1.4"/><line x1="95.50" y1="200.10" x2="99.95" y2="202.80" stroke="#b4b4b4" stroke-width="1.4"/><line x1="99.95" y1="202.80" x2="104.40" y2="205.50" stroke="#8aa0e4" stroke-width="1.4"/><line x1="104.40" y1="205.50" x2="107.35" y2="202.10" stroke="#8aa0e4" stroke-width="1.4"/><line x1="107.35" y1="202.10" x2="110.30" y2="198.70" stroke="#b4b4b4" stroke-width="1.4"/><line x1="110.30" y1="198.70" x2="107.80" y2="194.05" stroke="#b4b4b4" stroke-width="1.4"/><line x1="107.80" y1="194.05" x2="105.30" y2="189.40" stroke="#8aa0e4" stroke-width="1.4"/><line x1="96.00" y1="191.10" x2="92.85" y2="188.30" stroke="#b4b4b4" stroke-width="1.4"/><line x1="92.85" y1="188.30" x2="89.70" y2="185.50" stroke="#d0d0d0" stroke-width="1.4"/><line x1="95.50" y1="200.10" x2="91.50" y2="201.55" stroke="#b4b4b4" stroke-width="1.4"/><line x1="91.50" y1="201.55" x2="87.50" y2="203.00" stroke="#d0d0d0" stroke-width="1.4"/><line x1="110.30" y1="198.70" x2="114.95" y2="198.30" stroke="#b4b4b4" stroke-width="1.4"/><line x1="114.95" y1="198.30" x2="119.60" y2="197.90" stroke="#d0d0d0" stroke-width="1.4"/><line x1="104.40" y1="205.50" x2="102.70" y2="208.45" stroke="#8aa0e4" stroke-width="1.4"/><line x1="102.70" y1="208.45" x2="101.00" y2="211.40" stroke="#b4b4b4" stroke-width="1.4"/><line x1="101.00" y1="211.40" x2="98.50" y2="209.70" stroke="#b4b4b4" stroke-width="1.4"/><line x1="98.50" y1="209.70" x2="96.00" y2="208.00" stroke="#d0d0d0" stroke-width="1.4"/><line x1="101.00" y1="211.40" x2="98.25" y2="214.60" stroke="#b4b4b4" stroke-width="1.4"/><line x1="98.25" y1="214.60" x2="95.50" y2="217.80" stroke="#d0d0d0" stroke-width="1.4"/><line x1="101.00" y1="211.40" x2="104.40" y2="213.35" stroke="#b4b4b4" stroke-width="1.4"/><line x1="104.40" y1="213.35" x2="107.80" y2="215.30" stroke="#d0d0d0" stroke-width="1.4"/><line x1="105.30" y1="189.40" x2="108.65" y2="185.60" stroke="#8aa0e4" stroke-width="1.4"/><line x1="108.65" y1="185.60" x2="112.00" y2="181.80" stroke="#b4b4b4" stroke-width="1.4"/><line x1="112.00" y1="181.80" x2="109.90" y2="178.25" stroke="#b4b4b4" stroke-width="1.4"/><line x1="109.90" y1="178.25" x2="107.80" y2="174.70" stroke="#d0d0d0" stroke-width="1.4"/><line x1="112.00" y1="181.80" x2="114.55" y2="183.10" stroke="#b4b4b4" stroke-width="1.4"/><line x1="114.55" y1="183.10" x2="117.10" y2="184.40" stroke="#d0d0d0" stroke-width="1.4"/><line x1="112.00" y1="181.80" x2="116.65" y2="180.55" stroke="#b4b4b4" stroke-width="1.4"/><line x1="116.65" y1="180.55" x2="121.30" y2="179.30" stroke="#b4b4b4" stroke-width="1.4"/><line x1="121.30" y1="179.30" x2="124.10" y2="176.50" stroke="#b4b4b4" stroke-width="1.4"/><line x1="124.10" y1="176.50" x2="126.90" y2="173.70" stroke="#d0d0d0" stroke-width="1.4"/><line x1="121.30" y1="179.30" x2="123.85" y2="182.25" stroke="#b4b4b4" stroke-width="1.4"/><line x1="123.85" y1="182.25" x2="126.40" y2="185.20" stroke="#d0d0d0" stroke-width="1.4"/><line x1="121.30" y1="179.30" x2="119.65" y2="178.20" stroke="#b4b4b4" stroke-width="1.4"/><line x1="119.65" y1="178.20" x2="118.00" y2="177.10" stroke="#d0d0d0" stroke-width="1.4"/><circle cx="118.00" cy="177.10" r="2.05" fill="url(#aH)" stroke="#8e8e8e" stroke-width="0.45"/><text x="118.00" y="178.10" font-size="2.8" fill="#2a2a2a" fill-opacity="0.8" text-anchor="middle">H</text><circle cx="96.00" cy="208.00" r="2.15" fill="url(#aH)" stroke="#8e8e8e" stroke-width="0.45"/><text x="96.00" y="209.00" font-size="2.8" fill="#2a2a2a" fill-opacity="0.8" text-anchor="middle">H</text><circle cx="89.70" cy="185.50" r="2.35" fill="url(#aH)" stroke="#8e8e8e" stroke-width="0.45"/><text x="89.70" y="186.50" font-size="2.8" fill="#2a2a2a" fill-opacity="0.8" text-anchor="middle">H</text><circle cx="87.50" cy="203.00" r="2.35" fill="url(#aH)" stroke="#8e8e8e" stroke-width="0.45"/><text x="87.50" y="204.00" font-size="2.8" fill="#2a2a2a" fill-opacity="0.8" text-anchor="middle">H</text><circle cx="119.60" cy="197.90" r="2.35" fill="url(#aH)" stroke="#8e8e8e" stroke-width="0.45"/><text x="119.60" y="198.90" font-size="2.8" fill="#2a2a2a" fill-opacity="0.8" text-anchor="middle">H</text><circle cx="95.50" cy="217.80" r="2.35" fill="url(#aH)" stroke="#8e8e8e" stroke-width="0.45"/><text x="95.50" y="218.80" font-size="2.8" fill="#2a2a2a" fill-opacity="0.8" text-anchor="middle">H</text><circle cx="107.80" cy="215.30" r="2.25" fill="url(#aH)" stroke="#8e8e8e" stroke-width="0.45"/><text x="107.80" y="216.30" font-size="2.8" fill="#2a2a2a" fill-opacity="0.8" text-anchor="middle">H</text><circle cx="107.80" cy="174.70" r="2.25" fill="url(#aH)" stroke="#8e8e8e" stroke-width="0.45"/><text x="107.80" y="175.70" font-size="2.8" fill="#2a2a2a" fill-opacity="0.8" text-anchor="middle">H</text><circle cx="126.90" cy="173.70" r="2.25" fill="url(#aH)" stroke="#8e8e8e" stroke-width="0.45"/><text x="126.90" y="174.70" font-size="2.8" fill="#2a2a2a" fill-opacity="0.8" text-anchor="middle">H</text><circle cx="126.40" cy="185.20" r="2.25" fill="url(#aH)" stroke="#8e8e8e" stroke-width="0.45"/><text x="126.40" y="186.20" font-size="2.8" fill="#2a2a2a" fill-opacity="0.8" text-anchor="middle">H</text><circle cx="96.00" cy="191.10" r="3.70" fill="url(#aC)" stroke="#7a7a7a" stroke-width="0.45"/><text x="96.00" y="192.10" font-size="2.8" fill="#2a2a2a" fill-opacity="0.8" text-anchor="middle">C</text><circle cx="95.50" cy="200.10" r="3.70" fill="url(#aC)" stroke="#7a7a7a" stroke-width="0.45"/><text x="95.50" y="201.10" font-size="2.8" fill="#2a2a2a" fill-opacity="0.8" text-anchor="middle">C</text><circle cx="104.40" cy="205.50" r="3.50" fill="url(#aN)" stroke="#3a55b0" stroke-width="0.45"/><text x="104.40" y="206.50" font-size="2.8" fill="#2a2a2a" fill-opacity="0.8" text-anchor="middle">N</text><circle cx="110.30" cy="198.70" r="3.70" fill="url(#aC)" stroke="#7a7a7a" stroke-width="0.45"/><text x="110.30" y="199.70" font-size="2.8" fill="#2a2a2a" fill-opacity="0.8" text-anchor="middle">C</text><circle cx="105.30" cy="189.40" r="3.50" fill="url(#aN)" stroke="#3a55b0" stroke-width="0.45"/><text x="105.30" y="190.40" font-size="2.8" fill="#2a2a2a" fill-opacity="0.8" text-anchor="middle">N</text><circle cx="101.00" cy="211.40" r="3.60" fill="url(#aC)" stroke="#7a7a7a" stroke-width="0.45"/><text x="101.00" y="212.40" font-size="2.8" fill="#2a2a2a" fill-opacity="0.8" text-anchor="middle">C</text><circle cx="121.30" cy="179.30" r="3.80" fill="url(#aC)" stroke="#7a7a7a" stroke-width="0.45"/><text x="121.30" y="180.30" font-size="2.8" fill="#2a2a2a" fill-opacity="0.8" text-anchor="middle">C</text><circle cx="112.00" cy="181.80" r="3.80" fill="url(#aC)" stroke="#7a7a7a" stroke-width="0.45"/><text x="112.00" y="182.80" font-size="2.8" fill="#2a2a2a" fill-opacity="0.8" text-anchor="middle">C</text><circle cx="117.10" cy="184.40" r="2.25" fill="url(#aH)" stroke="#8e8e8e" stroke-width="0.45"/><text x="117.10" y="185.40" font-size="2.8" fill="#2a2a2a" fill-opacity="0.8" text-anchor="middle">H</text><line x1="184.00" y1="168.30" x2="179.35" y2="169.15" stroke="#8aa0e4" stroke-width="1.4"/><line x1="179.35" y1="169.15" x2="174.70" y2="170.00" stroke="#b4b4b4" stroke-width="1.4"/><line x1="174.70" y1="170.00" x2="174.45" y2="174.50" stroke="#b4b4b4" stroke-width="1.4"/><line x1="174.45" y1="174.50" x2="174.20" y2="179.00" stroke="#b4b4b4" stroke-width="1.4"/><line x1="174.20" y1="179.00" x2="178.65" y2="181.70" stroke="#b4b4b4" stroke-width="1.4"/><line x1="178.65" y1="181.70" x2="183.10" y2="184.40" stroke="#8aa0e4" stroke-width="1.4"/><line x1="183.10" y1="184.40" x2="186.05" y2="181.00" stroke="#8aa0e4" stroke-width="1.4"/><line x1="186.05" y1="181.00" x2="189.00" y2="177.60" stroke="#b4b4b4" stroke-width="1.4"/><line x1="189.00" y1="177.60" x2="186.50" y2="172.95" stroke="#b4b4b4" stroke-width="1.4"/><line x1="186.50" y1="172.95" x2="184.00" y2="168.30" stroke="#8aa0e4" stroke-width="1.4"/><line x1="174.70" y1="170.00" x2="171.55" y2="167.20" stroke="#b4b4b4" stroke-width="1.4"/><line x1="171.55" y1="167.20" x2="168.40" y2="164.40" stroke="#d0d0d0" stroke-width="1.4"/><line x1="174.20" y1="179.00" x2="170.20" y2="180.45" stroke="#b4b4b4" stroke-width="1.4"/><line x1="170.20" y1="180.45" x2="166.20" y2="181.90" stroke="#d0d0d0" stroke-width="1.4"/><line x1="189.00" y1="177.60" x2="193.65" y2="177.20" stroke="#b4b4b4" stroke-width="1.4"/><line x1="193.65" y1="177.20" x2="198.30" y2="176.80" stroke="#d0d0d0" stroke-width="1.4"/><line x1="183.10" y1="184.40" x2="181.40" y2="187.35" stroke="#8aa0e4" stroke-width="1.4"/><line x1="181.40" y1="187.35" x2="179.70" y2="190.30" stroke="#b4b4b4" stroke-width="1.4"/><line x1="179.70" y1="190.30" x2="177.20" y2="188.60" stroke="#b4b4b4" stroke-width="1.4"/><line x1="177.20" y1="188.60" x2="174.70" y2="186.90" stroke="#d0d0d0" stroke-width="1.4"/><line x1="179.70" y1="190.30" x2="176.95" y2="193.50" stroke="#b4b4b4" stroke-width="1.4"/><line x1="176.95" y1="193.50" x2="174.20" y2="196.70" stroke="#d0d0d0" stroke-width="1.4"/><line x1="179.70" y1="190.30" x2="183.10" y2="192.25" stroke="#b4b4b4" stroke-width="1.4"/><line x1="183.10" y1="192.25" x2="186.50" y2="194.20" stroke="#d0d0d0" stroke-width="1.4"/><line x1="184.00" y1="168.30" x2="187.35" y2="164.50" stroke="#8aa0e4" stroke-width="1.4"/><line x1="187.35" y1="164.50" x2="190.70" y2="160.70" stroke="#b4b4b4" stroke-width="1.4"/><line x1="190.70" y1="160.70" x2="188.60" y2="157.15" stroke="#b4b4b4" stroke-width="1.4"/><line x1="188.60" y1="157.15" x2="186.50" y2="153.60" stroke="#d0d0d0" stroke-width="1.4"/><line x1="190.70" y1="160.70" x2="193.25" y2="162.00" stroke="#b4b4b4" stroke-width="1.4"/><line x1="193.25" y1="162.00" x2="195.80" y2="163.30" stroke="#d0d0d0" stroke-width="1.4"/><line x1="190.70" y1="160.70" x2="195.35" y2="159.45" stroke="#b4b4b4" stroke-width="1.4"/><line x1="195.35" y1="159.45" x2="200.00" y2="158.20" stroke="#b4b4b4" stroke-width="1.4"/><line x1="200.00" y1="158.20" x2="202.80" y2="155.40" stroke="#b4b4b4" stroke-width="1.4"/><line x1="202.80" y1="155.40" x2="205.60" y2="152.60" stroke="#d0d0d0" stroke-width="1.4"/><line x1="200.00" y1="158.20" x2="202.55" y2="161.15" stroke="#b4b4b4" stroke-width="1.4"/><line x1="202.55" y1="161.15" x2="205.10" y2="164.10" stroke="#d0d0d0" stroke-width="1.4"/><line x1="200.00" y1="158.20" x2="198.35" y2="157.10" stroke="#b4b4b4" stroke-width="1.4"/><line x1="198.35" y1="157.10" x2="196.70" y2="156.00" stroke="#d0d0d0" stroke-width="1.4"/><circle cx="196.70" cy="156.00" r="2.05" fill="url(#aH)" stroke="#8e8e8e" stroke-width="0.45"/><text x="196.70" y="157.00" font-size="2.8" fill="#2a2a2a" fill-opacity="0.8" text-anchor="middle">H</text><circle cx="174.70" cy="186.90" r="2.15" fill="url(#aH)" stroke="#8e8e8e" stroke-width="0.45"/><text x="174.70" y="187.90" font-size="2.8" fill="#2a2a2a" fill-opacity="0.8" text-anchor="middle">H</text><circle cx="168.40" cy="164.40" r="2.35" fill="url(#aH)" stroke="#8e8e8e" stroke-width="0.45"/><text x="168.40" y="165.40" font-size="2.8" fill="#2a2a2a" fill-opacity="0.8" text-anchor="middle">H</text><circle cx="166.20" cy="181.90" r="2.35" fill="url(#aH)" stroke="#8e8e8e" stroke-width="0.45"/><text x="166.20" y="182.90" font-size="2.8" fill="#2a2a2a" fill-opacity="0.8" text-anchor="middle">H</text><circle cx="198.30" cy="176.80" r="2.35" fill="url(#aH)" stroke="#8e8e8e" stroke-width="0.45"/><text x="198.30" y="177.80" font-size="2.8" fill="#2a2a2a" fill-opacity="0.8" text-anchor="middle">H</text><circle cx="174.20" cy="196.70" r="2.35" fill="url(#aH)" stroke="#8e8e8e" stroke-width="0.45"/><text x="174.20" y="197.70" font-size="2.8" fill="#2a2a2a" fill-opacity="0.8" text-anchor="middle">H</text><circle cx="186.50" cy="194.20" r="2.25" fill="url(#aH)" stroke="#8e8e8e" stroke-width="0.45"/><text x="186.50" y="195.20" font-size="2.8" fill="#2a2a2a" fill-opacity="0.8" text-anchor="middle">H</text><circle cx="186.50" cy="153.60" r="2.25" fill="url(#aH)" stroke="#8e8e8e" stroke-width="0.45"/><text x="186.50" y="154.60" font-size="2.8" fill="#2a2a2a" fill-opacity="0.8" text-anchor="middle">H</text><circle cx="205.60" cy="152.60" r="2.25" fill="url(#aH)" stroke="#8e8e8e" stroke-width="0.45"/><text x="205.60" y="153.60" font-size="2.8" fill="#2a2a2a" fill-opacity="0.8" text-anchor="middle">H</text><circle cx="205.10" cy="164.10" r="2.25" fill="url(#aH)" stroke="#8e8e8e" stroke-width="0.45"/><text x="205.10" y="165.10" font-size="2.8" fill="#2a2a2a" fill-opacity="0.8" text-anchor="middle">H</text><circle cx="174.70" cy="170.00" r="3.70" fill="url(#aC)" stroke="#7a7a7a" stroke-width="0.45"/><text x="174.70" y="171.00" font-size="2.8" fill="#2a2a2a" fill-opacity="0.8" text-anchor="middle">C</text><circle cx="174.20" cy="179.00" r="3.70" fill="url(#aC)" stroke="#7a7a7a" stroke-width="0.45"/><text x="174.20" y="180.00" font-size="2.8" fill="#2a2a2a" fill-opacity="0.8" text-anchor="middle">C</text><circle cx="183.10" cy="184.40" r="3.50" fill="url(#aN)" stroke="#3a55b0" stroke-width="0.45"/><text x="183.10" y="185.40" font-size="2.8" fill="#2a2a2a" fill-opacity="0.8" text-anchor="middle">N</text><circle cx="189.00" cy="177.60" r="3.70" fill="url(#aC)" stroke="#7a7a7a" stroke-width="0.45"/><text x="189.00" y="178.60" font-size="2.8" fill="#2a2a2a" fill-opacity="0.8" text-anchor="middle">C</text><circle cx="184.00" cy="168.30" r="3.50" fill="url(#aN)" stroke="#3a55b0" stroke-width="0.45"/><text x="184.00" y="169.30" font-size="2.8" fill="#2a2a2a" fill-opacity="0.8" text-anchor="middle">N</text><circle cx="179.70" cy="190.30" r="3.60" fill="url(#aC)" stroke="#7a7a7a" stroke-width="0.45"/><text x="179.70" y="191.30" font-size="2.8" fill="#2a2a2a" fill-opacity="0.8" text-anchor="middle">C</text><circle cx="200.00" cy="158.20" r="3.80" fill="url(#aC)" stroke="#7a7a7a" stroke-width="0.45"/><text x="200.00" y="159.20" font-size="2.8" fill="#2a2a2a" fill-opacity="0.8" text-anchor="middle">C</text><circle cx="190.70" cy="160.70" r="3.80" fill="url(#aC)" stroke="#7a7a7a" stroke-width="0.45"/><text x="190.70" y="161.70" font-size="2.8" fill="#2a2a2a" fill-opacity="0.8" text-anchor="middle">C</text><circle cx="195.80" cy="163.30" r="2.25" fill="url(#aH)" stroke="#8e8e8e" stroke-width="0.45"/><text x="195.80" y="164.30" font-size="2.8" fill="#2a2a2a" fill-opacity="0.8" text-anchor="middle">H</text><line x1="234.10" y1="187.20" x2="229.45" y2="188.05" stroke="#8aa0e4" stroke-width="1.4"/><line x1="229.45" y1="188.05" x2="224.80" y2="188.90" stroke="#b4b4b4" stroke-width="1.4"/><line x1="224.80" y1="188.90" x2="224.55" y2="193.40" stroke="#b4b4b4" stroke-width="1.4"/><line x1="224.55" y1="193.40" x2="224.30" y2="197.90" stroke="#b4b4b4" stroke-width="1.4"/><line x1="224.30" y1="197.90" x2="228.75" y2="200.60" stroke="#b4b4b4" stroke-width="1.4"/><line x1="228.75" y1="200.60" x2="233.20" y2="203.30" stroke="#8aa0e4" stroke-width="1.4"/><line x1="233.20" y1="203.30" x2="236.15" y2="199.90" stroke="#8aa0e4" stroke-width="1.4"/><line x1="236.15" y1="199.90" x2="239.10" y2="196.50" stroke="#b4b4b4" stroke-width="1.4"/><line x1="239.10" y1="196.50" x2="236.60" y2="191.85" stroke="#b4b4b4" stroke-width="1.4"/><line x1="236.60" y1="191.85" x2="234.10" y2="187.20" stroke="#8aa0e4" stroke-width="1.4"/><line x1="224.80" y1="188.90" x2="221.65" y2="186.10" stroke="#b4b4b4" stroke-width="1.4"/><line x1="221.65" y1="186.10" x2="218.50" y2="183.30" stroke="#d0d0d0" stroke-width="1.4"/><line x1="224.30" y1="197.90" x2="220.30" y2="199.35" stroke="#b4b4b4" stroke-width="1.4"/><line x1="220.30" y1="199.35" x2="216.30" y2="200.80" stroke="#d0d0d0" stroke-width="1.4"/><line x1="239.10" y1="196.50" x2="243.75" y2="196.10" stroke="#b4b4b4" stroke-width="1.4"/><line x1="243.75" y1="196.10" x2="248.40" y2="195.70" stroke="#d0d0d0" stroke-width="1.4"/><line x1="233.20" y1="203.30" x2="231.50" y2="206.25" stroke="#8aa0e4" stroke-width="1.4"/><line x1="231.50" y1="206.25" x2="229.80" y2="209.20" stroke="#b4b4b4" stroke-width="1.4"/><line x1="229.80" y1="209.20" x2="227.30" y2="207.50" stroke="#b4b4b4" stroke-width="1.4"/><line x1="227.30" y1="207.50" x2="224.80" y2="205.80" stroke="#d0d0d0" stroke-width="1.4"/><line x1="229.80" y1="209.20" x2="227.05" y2="212.40" stroke="#b4b4b4" stroke-width="1.4"/><line x1="227.05" y1="212.40" x2="224.30" y2="215.60" stroke="#d0d0d0" stroke-width="1.4"/><line x1="229.80" y1="209.20" x2="233.20" y2="211.15" stroke="#b4b4b4" stroke-width="1.4"/><line x1="233.20" y1="211.15" x2="236.60" y2="213.10" stroke="#d0d0d0" stroke-width="1.4"/><line x1="234.10" y1="187.20" x2="237.45" y2="183.40" stroke="#8aa0e4" stroke-width="1.4"/><line x1="237.45" y1="183.40" x2="240.80" y2="179.60" stroke="#b4b4b4" stroke-width="1.4"/><line x1="240.80" y1="179.60" x2="238.70" y2="176.05" stroke="#b4b4b4" stroke-width="1.4"/><line x1="238.70" y1="176.05" x2="236.60" y2="172.50" stroke="#d0d0d0" stroke-width="1.4"/><line x1="240.80" y1="179.60" x2="243.35" y2="180.90" stroke="#b4b4b4" stroke-width="1.4"/><line x1="243.35" y1="180.90" x2="245.90" y2="182.20" stroke="#d0d0d0" stroke-width="1.4"/><line x1="240.80" y1="179.60" x2="245.45" y2="178.35" stroke="#b4b4b4" stroke-width="1.4"/><line x1="245.45" y1="178.35" x2="250.10" y2="177.10" stroke="#b4b4b4" stroke-width="1.4"/><line x1="250.10" y1="177.10" x2="252.90" y2="174.30" stroke="#b4b4b4" stroke-width="1.4"/><line x1="252.90" y1="174.30" x2="255.70" y2="171.50" stroke="#d0d0d0" stroke-width="1.4"/><line x1="250.10" y1="177.10" x2="252.65" y2="180.05" stroke="#b4b4b4" stroke-width="1.4"/><line x1="252.65" y1="180.05" x2="255.20" y2="183.00" stroke="#d0d0d0" stroke-width="1.4"/><line x1="250.10" y1="177.10" x2="248.45" y2="176.00" stroke="#b4b4b4" stroke-width="1.4"/><line x1="248.45" y1="176.00" x2="246.80" y2="174.90" stroke="#d0d0d0" stroke-width="1.4"/><circle cx="246.80" cy="174.90" r="2.05" fill="url(#aH)" stroke="#8e8e8e" stroke-width="0.45"/><text x="246.80" y="175.90" font-size="2.8" fill="#2a2a2a" fill-opacity="0.8" text-anchor="middle">H</text><circle cx="224.80" cy="205.80" r="2.15" fill="url(#aH)" stroke="#8e8e8e" stroke-width="0.45"/><text x="224.80" y="206.80" font-size="2.8" fill="#2a2a2a" fill-opacity="0.8" text-anchor="middle">H</text><circle cx="218.50" cy="183.30" r="2.35" fill="url(#aH)" stroke="#8e8e8e" stroke-width="0.45"/><text x="218.50" y="184.30" font-size="2.8" fill="#2a2a2a" fill-opacity="0.8" text-anchor="middle">H</text><circle cx="216.30" cy="200.80" r="2.35" fill="url(#aH)" stroke="#8e8e8e" stroke-width="0.45"/><text x="216.30" y="201.80" font-size="2.8" fill="#2a2a2a" fill-opacity="0.8" text-anchor="middle">H</text><circle cx="248.40" cy="195.70" r="2.35" fill="url(#aH)" stroke="#8e8e8e" stroke-width="0.45"/><text x="248.40" y="196.70" font-size="2.8" fill="#2a2a2a" fill-opacity="0.8" text-anchor="middle">H</text><circle cx="224.30" cy="215.60" r="2.35" fill="url(#aH)" stroke="#8e8e8e" stroke-width="0.45"/><text x="224.30" y="216.60" font-size="2.8" fill="#2a2a2a" fill-opacity="0.8" text-anchor="middle">H</text><circle cx="236.60" cy="213.10" r="2.25" fill="url(#aH)" stroke="#8e8e8e" stroke-width="0.45"/><text x="236.60" y="214.10" font-size="2.8" fill="#2a2a2a" fill-opacity="0.8" text-anchor="middle">H</text><circle cx="236.60" cy="172.50" r="2.25" fill="url(#aH)" stroke="#8e8e8e" stroke-width="0.45"/><text x="236.60" y="173.50" font-size="2.8" fill="#2a2a2a" fill-opacity="0.8" text-anchor="middle">H</text><circle cx="255.70" cy="171.50" r="2.25" fill="url(#aH)" stroke="#8e8e8e" stroke-width="0.45"/><text x="255.70" y="172.50" font-size="2.8" fill="#2a2a2a" fill-opacity="0.8" text-anchor="middle">H</text><circle cx="255.20" cy="183.00" r="2.25" fill="url(#aH)" stroke="#8e8e8e" stroke-width="0.45"/><text x="255.20" y="184.00" font-size="2.8" fill="#2a2a2a" fill-opacity="0.8" text-anchor="middle">H</text><circle cx="224.80" cy="188.90" r="3.70" fill="url(#aC)" stroke="#7a7a7a" stroke-width="0.45"/><text x="224.80" y="189.90" font-size="2.8" fill="#2a2a2a" fill-opacity="0.8" text-anchor="middle">C</text><circle cx="224.30" cy="197.90" r="3.70" fill="url(#aC)" stroke="#7a7a7a" stroke-width="0.45"/><text x="224.30" y="198.90" font-size="2.8" fill="#2a2a2a" fill-opacity="0.8" text-anchor="middle">C</text><circle cx="233.20" cy="203.30" r="3.50" fill="url(#aN)" stroke="#3a55b0" stroke-width="0.45"/><text x="233.20" y="204.30" font-size="2.8" fill="#2a2a2a" fill-opacity="0.8" text-anchor="middle">N</text><circle cx="239.10" cy="196.50" r="3.70" fill="url(#aC)" stroke="#7a7a7a" stroke-width="0.45"/><text x="239.10" y="197.50" font-size="2.8" fill="#2a2a2a" fill-opacity="0.8" text-anchor="middle">C</text><circle cx="234.10" cy="187.20" r="3.50" fill="url(#aN)" stroke="#3a55b0" stroke-width="0.45"/><text x="234.10" y="188.20" font-size="2.8" fill="#2a2a2a" fill-opacity="0.8" text-anchor="middle">N</text><circle cx="229.80" cy="209.20" r="3.60" fill="url(#aC)" stroke="#7a7a7a" stroke-width="0.45"/><text x="229.80" y="210.20" font-size="2.8" fill="#2a2a2a" fill-opacity="0.8" text-anchor="middle">C</text><circle cx="250.10" cy="177.10" r="3.80" fill="url(#aC)" stroke="#7a7a7a" stroke-width="0.45"/><text x="250.10" y="178.10" font-size="2.8" fill="#2a2a2a" fill-opacity="0.8" text-anchor="middle">C</text><circle cx="240.80" cy="179.60" r="3.80" fill="url(#aC)" stroke="#7a7a7a" stroke-width="0.45"/><text x="240.80" y="180.60" font-size="2.8" fill="#2a2a2a" fill-opacity="0.8" text-anchor="middle">C</text><circle cx="245.90" cy="182.20" r="2.25" fill="url(#aH)" stroke="#8e8e8e" stroke-width="0.45"/><text x="245.90" y="183.20" font-size="2.8" fill="#2a2a2a" fill-opacity="0.8" text-anchor="middle">H</text><line x1="133.60" y1="225.30" x2="128.00" y2="220.30" stroke="#c4b4b4" stroke-width="1.9"/><line x1="128.00" y1="220.30" x2="122.40" y2="215.30" stroke="#5ed85a" stroke-width="1.9"/><line x1="133.60" y1="225.30" x2="139.65" y2="221.25" stroke="#c4b4b4" stroke-width="1.9"/><line x1="139.65" y1="221.25" x2="145.70" y2="217.20" stroke="#5ed85a" stroke-width="1.9"/><line x1="133.60" y1="225.30" x2="129.50" y2="228.80" stroke="#c4b4b4" stroke-width="1.9"/><line x1="129.50" y1="228.80" x2="125.40" y2="232.30" stroke="#5ed85a" stroke-width="1.9"/><line x1="133.60" y1="225.30" x2="137.95" y2="230.40" stroke="#c4b4b4" stroke-width="1.9"/><line x1="137.95" y1="230.40" x2="142.30" y2="235.50" stroke="#5ed85a" stroke-width="1.9"/><circle cx="125.40" cy="232.30" r="3.50" fill="url(#aCl)" stroke="#249a22" stroke-width="0.45"/><text x="125.40" y="233.30" font-size="2.9" fill="#2a2a2a" fill-opacity="0.8" text-anchor="middle">Cl</text><circle cx="145.70" cy="217.20" r="3.70" fill="url(#aCl)" stroke="#249a22" stroke-width="0.45"/><text x="145.70" y="218.20" font-size="2.9" fill="#2a2a2a" fill-opacity="0.8" text-anchor="middle">Cl</text><circle cx="133.60" cy="225.30" r="3.80" fill="url(#aAl)" stroke="#8a7a7a" stroke-width="0.45"/><text x="133.60" y="226.30" font-size="2.9" fill="#2a2a2a" fill-opacity="0.8" text-anchor="middle">Al</text><circle cx="122.40" cy="215.30" r="4.00" fill="url(#aCl)" stroke="#249a22" stroke-width="0.45"/><text x="122.40" y="216.30" font-size="2.9" fill="#2a2a2a" fill-opacity="0.8" text-anchor="middle">Cl</text><circle cx="142.30" cy="235.50" r="4.00" fill="url(#aCl)" stroke="#249a22" stroke-width="0.45"/><text x="142.30" y="236.50" font-size="2.9" fill="#2a2a2a" fill-opacity="0.8" text-anchor="middle">Cl</text><line x1="168.00" y1="144.50" x2="162.40" y2="139.50" stroke="#c4b4b4" stroke-width="1.9"/><line x1="162.40" y1="139.50" x2="156.80" y2="134.50" stroke="#5ed85a" stroke-width="1.9"/><line x1="168.00" y1="144.50" x2="174.05" y2="140.45" stroke="#c4b4b4" stroke-width="1.9"/><line x1="174.05" y1="140.45" x2="180.10" y2="136.40" stroke="#5ed85a" stroke-width="1.9"/><line x1="168.00" y1="144.50" x2="163.90" y2="148.00" stroke="#c4b4b4" stroke-width="1.9"/><line x1="163.90" y1="148.00" x2="159.80" y2="151.50" stroke="#5ed85a" stroke-width="1.9"/><line x1="168.00" y1="144.50" x2="172.35" y2="149.60" stroke="#c4b4b4" stroke-width="1.9"/><line x1="172.35" y1="149.60" x2="176.70" y2="154.70" stroke="#5ed85a" stroke-width="1.9"/><circle cx="159.80" cy="151.50" r="3.50" fill="url(#aCl)" stroke="#249a22" stroke-width="0.45"/><text x="159.80" y="152.50" font-size="2.9" fill="#2a2a2a" fill-opacity="0.8" text-anchor="middle">Cl</text><circle cx="180.10" cy="136.40" r="3.70" fill="url(#aCl)" stroke="#249a22" stroke-width="0.45"/><text x="180.10" y="137.40" font-size="2.9" fill="#2a2a2a" fill-opacity="0.8" text-anchor="middle">Cl</text><circle cx="168.00" cy="144.50" r="3.80" fill="url(#aAl)" stroke="#8a7a7a" stroke-width="0.45"/><text x="168.00" y="145.50" font-size="2.9" fill="#2a2a2a" fill-opacity="0.8" text-anchor="middle">Al</text><circle cx="156.80" cy="134.50" r="4.00" fill="url(#aCl)" stroke="#249a22" stroke-width="0.45"/><text x="156.80" y="135.50" font-size="2.9" fill="#2a2a2a" fill-opacity="0.8" text-anchor="middle">Cl</text><circle cx="176.70" cy="154.70" r="4.00" fill="url(#aCl)" stroke="#249a22" stroke-width="0.45"/><text x="176.70" y="155.70" font-size="2.9" fill="#2a2a2a" fill-opacity="0.8" text-anchor="middle">Cl</text><line x1="206.00" y1="133.00" x2="200.40" y2="128.00" stroke="#c4b4b4" stroke-width="1.9"/><line x1="200.40" y1="128.00" x2="194.80" y2="123.00" stroke="#5ed85a" stroke-width="1.9"/><line x1="206.00" y1="133.00" x2="212.05" y2="128.95" stroke="#c4b4b4" stroke-width="1.9"/><line x1="212.05" y1="128.95" x2="218.10" y2="124.90" stroke="#5ed85a" stroke-width="1.9"/><line x1="206.00" y1="133.00" x2="201.90" y2="136.50" stroke="#c4b4b4" stroke-width="1.9"/><line x1="201.90" y1="136.50" x2="197.80" y2="140.00" stroke="#5ed85a" stroke-width="1.9"/><line x1="206.00" y1="133.00" x2="210.35" y2="138.10" stroke="#c4b4b4" stroke-width="1.9"/><line x1="210.35" y1="138.10" x2="214.70" y2="143.20" stroke="#5ed85a" stroke-width="1.9"/><circle cx="197.80" cy="140.00" r="3.50" fill="url(#aCl)" stroke="#249a22" stroke-width="0.45"/><text x="197.80" y="141.00" font-size="2.9" fill="#2a2a2a" fill-opacity="0.8" text-anchor="middle">Cl</text><circle cx="218.10" cy="124.90" r="3.70" fill="url(#aCl)" stroke="#249a22" stroke-width="0.45"/><text x="218.10" y="125.90" font-size="2.9" fill="#2a2a2a" fill-opacity="0.8" text-anchor="middle">Cl</text><circle cx="206.00" cy="133.00" r="3.80" fill="url(#aAl)" stroke="#8a7a7a" stroke-width="0.45"/><text x="206.00" y="134.00" font-size="2.9" fill="#2a2a2a" fill-opacity="0.8" text-anchor="middle">Al</text><circle cx="194.80" cy="123.00" r="4.00" fill="url(#aCl)" stroke="#249a22" stroke-width="0.45"/><text x="194.80" y="124.00" font-size="2.9" fill="#2a2a2a" fill-opacity="0.8" text-anchor="middle">Cl</text><circle cx="214.70" cy="143.20" r="4.00" fill="url(#aCl)" stroke="#249a22" stroke-width="0.45"/><text x="214.70" y="144.20" font-size="2.9" fill="#2a2a2a" fill-opacity="0.8" text-anchor="middle">Cl</text><line x1="208.00" y1="240.40" x2="202.40" y2="235.40" stroke="#c4b4b4" stroke-width="1.9"/><line x1="202.40" y1="235.40" x2="196.80" y2="230.40" stroke="#5ed85a" stroke-width="1.9"/><line x1="208.00" y1="240.40" x2="214.05" y2="236.35" stroke="#c4b4b4" stroke-width="1.9"/><line x1="214.05" y1="236.35" x2="220.10" y2="232.30" stroke="#5ed85a" stroke-width="1.9"/><line x1="208.00" y1="240.40" x2="203.90" y2="243.90" stroke="#c4b4b4" stroke-width="1.9"/><line x1="203.90" y1="243.90" x2="199.80" y2="247.40" stroke="#5ed85a" stroke-width="1.9"/><line x1="208.00" y1="240.40" x2="212.35" y2="245.50" stroke="#c4b4b4" stroke-width="1.9"/><line x1="212.35" y1="245.50" x2="216.70" y2="250.60" stroke="#5ed85a" stroke-width="1.9"/><circle cx="199.80" cy="247.40" r="3.50" fill="url(#aCl)" stroke="#249a22" stroke-width="0.45"/><text x="199.80" y="248.40" font-size="2.9" fill="#2a2a2a" fill-opacity="0.8" text-anchor="middle">Cl</text><circle cx="220.10" cy="232.30" r="3.70" fill="url(#aCl)" stroke="#249a22" stroke-width="0.45"/><text x="220.10" y="233.30" font-size="2.9" fill="#2a2a2a" fill-opacity="0.8" text-anchor="middle">Cl</text><circle cx="208.00" cy="240.40" r="3.80" fill="url(#aAl)" stroke="#8a7a7a" stroke-width="0.45"/><text x="208.00" y="241.40" font-size="2.9" fill="#2a2a2a" fill-opacity="0.8" text-anchor="middle">Al</text><circle cx="196.80" cy="230.40" r="4.00" fill="url(#aCl)" stroke="#249a22" stroke-width="0.45"/><text x="196.80" y="231.40" font-size="2.9" fill="#2a2a2a" fill-opacity="0.8" text-anchor="middle">Cl</text><circle cx="216.70" cy="250.60" r="4.00" fill="url(#aCl)" stroke="#249a22" stroke-width="0.45"/><text x="216.70" y="251.60" font-size="2.9" fill="#2a2a2a" fill-opacity="0.8" text-anchor="middle">Cl</text><line x1="273.80" y1="207.00" x2="269.85" y2="201.15" stroke="#c4b4b4" stroke-width="1.9"/><line x1="269.85" y1="201.15" x2="265.90" y2="195.30" stroke="#5ed85a" stroke-width="1.9"/><line x1="273.80" y1="207.00" x2="280.25" y2="203.60" stroke="#c4b4b4" stroke-width="1.9"/><line x1="280.25" y1="203.60" x2="286.70" y2="200.20" stroke="#5ed85a" stroke-width="1.9"/><line x1="273.80" y1="207.00" x2="277.05" y2="213.50" stroke="#c4b4b4" stroke-width="1.9"/><line x1="277.05" y1="213.50" x2="280.30" y2="220.00" stroke="#5ed85a" stroke-width="1.9"/><line x1="273.80" y1="207.00" x2="268.10" y2="206.65" stroke="#c4b4b4" stroke-width="1.9"/><line x1="268.10" y1="206.65" x2="262.40" y2="206.30" stroke="#5ed85a" stroke-width="1.9"/><line x1="252.90" y1="215.10" x2="257.65" y2="210.70" stroke="#c4b4b4" stroke-width="1.9"/><line x1="257.65" y1="210.70" x2="262.40" y2="206.30" stroke="#5ed85a" stroke-width="1.9"/><line x1="252.90" y1="215.10" x2="248.65" y2="209.95" stroke="#c4b4b4" stroke-width="1.9"/><line x1="248.65" y1="209.95" x2="244.40" y2="204.80" stroke="#5ed85a" stroke-width="1.9"/><line x1="252.90" y1="215.10" x2="257.00" y2="216.75" stroke="#c4b4b4" stroke-width="1.9"/><line x1="257.00" y1="216.75" x2="261.10" y2="218.40" stroke="#5ed85a" stroke-width="1.9"/><line x1="252.90" y1="215.10" x2="248.15" y2="220.20" stroke="#c4b4b4" stroke-width="1.9"/><line x1="248.15" y1="220.20" x2="243.40" y2="225.30" stroke="#5ed85a" stroke-width="1.9"/><circle cx="286.70" cy="200.20" r="3.20" fill="url(#aCl)" stroke="#249a22" stroke-width="0.45"/><text x="286.70" y="201.20" font-size="2.9" fill="#2a2a2a" fill-opacity="0.8" text-anchor="middle">Cl</text><circle cx="262.40" cy="206.30" r="3.30" fill="url(#aCl)" stroke="#249a22" stroke-width="0.45"/><text x="262.40" y="207.30" font-size="2.9" fill="#2a2a2a" fill-opacity="0.8" text-anchor="middle">Cl</text><circle cx="244.40" cy="204.80" r="3.30" fill="url(#aCl)" stroke="#249a22" stroke-width="0.45"/><text x="244.40" y="205.80" font-size="2.9" fill="#2a2a2a" fill-opacity="0.8" text-anchor="middle">Cl</text><circle cx="252.90" cy="215.10" r="3.70" fill="url(#aAl)" stroke="#8a7a7a" stroke-width="0.45"/><text x="252.90" y="216.10" font-size="2.9" fill="#2a2a2a" fill-opacity="0.8" text-anchor="middle">Al</text><circle cx="261.10" cy="218.40" r="3.40" fill="url(#aCl)" stroke="#249a22" stroke-width="0.45"/><text x="261.10" y="219.40" font-size="2.9" fill="#2a2a2a" fill-opacity="0.8" text-anchor="middle">Cl</text><circle cx="273.80" cy="207.00" r="3.80" fill="url(#aAl)" stroke="#8a7a7a" stroke-width="0.45"/><text x="273.80" y="208.00" font-size="2.9" fill="#2a2a2a" fill-opacity="0.8" text-anchor="middle">Al</text><circle cx="265.90" cy="195.30" r="4.20" fill="url(#aCl)" stroke="#249a22" stroke-width="0.45"/><text x="265.90" y="196.30" font-size="2.9" fill="#2a2a2a" fill-opacity="0.8" text-anchor="middle">Cl</text><circle cx="243.40" cy="225.30" r="3.70" fill="url(#aCl)" stroke="#249a22" stroke-width="0.45"/><text x="243.40" y="226.30" font-size="2.9" fill="#2a2a2a" fill-opacity="0.8" text-anchor="middle">Cl</text><circle cx="280.30" cy="220.00" r="4.00" fill="url(#aCl)" stroke="#249a22" stroke-width="0.45"/><text x="280.30" y="221.00" font-size="2.9" fill="#2a2a2a" fill-opacity="0.8" text-anchor="middle">Cl</text><circle cx="81.50" cy="214.60" r="3.60" fill="url(#aCl)" stroke="#249a22" stroke-width="0.45"/><text x="81.50" y="215.60" font-size="2.9" fill="#2a2a2a" fill-opacity="0.8" text-anchor="middle">Cl</text></g>
<rect x="48.9" y="19.2" width="256.10" height="239.30" fill="none" stroke="#1a1a1a" stroke-width="1.2"/>
<path d="M42.90,258.50H48.9M45.90,234.57H48.9M42.90,210.64H48.9M45.90,186.71H48.9M42.90,162.78H48.9M45.90,138.85H48.9M42.90,114.92H48.9M45.90,90.99H48.9M42.90,67.06H48.9M45.90,43.13H48.9M42.90,19.20H48.9M48.90,252.50V264.50M80.91,258.50V261.50M112.93,252.50V264.50M144.94,258.50V261.50M176.95,252.50V264.50M208.96,258.50V261.50M240.98,252.50V264.50M272.99,258.50V261.50M305.00,252.50V264.50" stroke="#1a1a1a" stroke-width="1.2" fill="none"/>
<text x="38" y="262.00" font-size="10.3" fill="#1a1a1a" stroke="#1a1a1a" stroke-width="0.1" text-anchor="end">0</text>
<text x="38" y="214.14" font-size="10.3" fill="#1a1a1a" stroke="#1a1a1a" stroke-width="0.1" text-anchor="end">0.2</text>
<text x="38" y="166.28" font-size="10.3" fill="#1a1a1a" stroke="#1a1a1a" stroke-width="0.1" text-anchor="end">0.4</text>
<text x="38" y="118.42" font-size="10.3" fill="#1a1a1a" stroke="#1a1a1a" stroke-width="0.1" text-anchor="end">0.6</text>
<text x="38" y="70.56" font-size="10.3" fill="#1a1a1a" stroke="#1a1a1a" stroke-width="0.1" text-anchor="end">0.8</text>
<text x="38" y="22.70" font-size="10.3" fill="#1a1a1a" stroke="#1a1a1a" stroke-width="0.1" text-anchor="end">1.0</text>
<text x="48.90" y="276.4" font-size="10.3" fill="#1a1a1a" stroke="#1a1a1a" stroke-width="0.1" text-anchor="middle">0</text>
<text x="112.93" y="276.4" font-size="10.3" fill="#1a1a1a" stroke="#1a1a1a" stroke-width="0.1" text-anchor="middle">0.5</text>
<text x="176.95" y="276.4" font-size="10.3" fill="#1a1a1a" stroke="#1a1a1a" stroke-width="0.1" text-anchor="middle">1.0</text>
<text x="240.98" y="276.4" font-size="10.3" fill="#1a1a1a" stroke="#1a1a1a" stroke-width="0.1" text-anchor="middle">1.5</text>
<text x="305.00" y="276.4" font-size="10.3" fill="#1a1a1a" stroke="#1a1a1a" stroke-width="0.1" text-anchor="middle">2.0</text>
<text x="177" y="289.6" font-size="12.1" fill="#1a1a1a" stroke="#1a1a1a" stroke-width="0.15" text-anchor="middle">Molar Ratio r</text>
<text transform="translate(14.8,127.3) rotate(-90)" font-size="11.4" fill="#1a1a1a" stroke="#1a1a1a" stroke-width="0.15" text-anchor="middle">Anion Fraction</text>
<text x="7.5" y="12.6" font-size="12" font-weight="bold" fill="#111">a</text>
<text x="324.5" y="12.2" font-size="12" font-weight="bold" fill="#111">b</text>
<line x1="93.4" y1="10.6" x2="114" y2="10.6" stroke="#138a1f" stroke-width="1.9" stroke-dasharray="0 2.93" stroke-linecap="round"/>
<text x="117.5" y="13.5" font-size="9.4" fill="#1a1a1a" stroke="#1a1a1a" stroke-width="0.12">Cl</text><text x="128.5" y="9.5" font-size="6" fill="#222">-</text>
<line x1="138" y1="10.5" x2="160.5" y2="10.5" stroke="#f02a1e" stroke-width="1.6" stroke-dasharray="3.6 2.6"/>
<text x="162.5" y="13.5" font-size="9.4" fill="#1a1a1a" stroke="#1a1a1a" stroke-width="0.12">AlCl<tspan font-size="6.4" dy="2">4</tspan><tspan font-size="6" dy="-6">-</tspan></text>
<line x1="192" y1="10.5" x2="214.6" y2="10.5" stroke="#1f4ec6" stroke-width="1.6" stroke-dasharray="6 10.6 6"/>
<text x="216.7" y="13.5" font-size="9.4" fill="#1a1a1a" stroke="#1a1a1a" stroke-width="0.12">Al<tspan font-size="6.4" dy="2">2</tspan><tspan dy="-2">Cl</tspan><tspan font-size="6.4" dy="2">7</tspan><tspan font-size="6" dy="-6">-</tspan></text>
<line x1="250.5" y1="10.5" x2="272.5" y2="10.5" stroke="#3a8ac9" stroke-width="1.5"/>
<text x="274.5" y="13.5" font-size="9.4" fill="#1a1a1a" stroke="#1a1a1a" stroke-width="0.12">Al<tspan font-size="6.4" dy="2">3</tspan><tspan dy="-2">Cl</tspan><tspan font-size="6.4" dy="2">10</tspan><tspan font-size="6" dy="-6">-</tspan></text>
<path d="M444.95,14.12 A126.5,126.5 0 1 1 317.11,128.22 L384.69,135.92 A58.5,58.5 0 1 0 444.95,82.13 Z" fill="#4a50a3" stroke="#4a50a3" stroke-width="2.6" stroke-linejoin="round"/>
<path d="M317.55,124.34 A126.5,126.5 0 0 1 324.84,95.44 L387.99,120.70 A58.5,58.5 0 0 0 385.13,132.04 Z" fill="#7d5cad" stroke="#7d5cad" stroke-width="2.6" stroke-linejoin="round"/>
<path d="M326.28,91.82 A126.5,126.5 0 0 1 342.13,64.26 L395.73,106.14 A58.5,58.5 0 0 0 389.44,117.08 Z" fill="#ec5c8c" stroke="#ec5c8c" stroke-width="2.6" stroke-linejoin="round"/>
<path d="M344.53,61.19 A126.5,126.5 0 0 1 357.08,47.76 L402.50,98.38 A58.5,58.5 0 0 0 398.13,103.07 Z" fill="#f39234" stroke="#f39234" stroke-width="2.6" stroke-linejoin="round"/>
<path d="M359.98,45.15 A126.5,126.5 0 0 1 366.90,39.55 L406.98,94.51 A58.5,58.5 0 0 0 405.40,95.78 Z" fill="#f9bc28" stroke="#f9bc28" stroke-width="2.6" stroke-linejoin="round"/>
<path d="M370.05,37.25 A126.5,126.5 0 0 1 376.18,33.19 L411.22,91.49 A58.5,58.5 0 0 0 410.13,92.21 Z" fill="#1d8696" stroke="#1d8696" stroke-width="2.6" stroke-linejoin="round"/>
<path d="M379.53,31.18 A126.5,126.5 0 0 1 386.59,27.37 L415.98,88.71 A58.5,58.5 0 0 0 414.56,89.48 Z" fill="#2d9cd8" stroke="#2d9cd8" stroke-width="2.6" stroke-linejoin="round"/>
<path d="M390.11,25.69 A126.5,126.5 0 0 1 396.88,22.81 L420.70,86.52 A58.5,58.5 0 0 0 419.50,87.03 Z" fill="#58c2e0" stroke="#58c2e0" stroke-width="2.6" stroke-linejoin="round"/>
<path d="M400.53,21.44 A126.5,126.5 0 0 1 407.32,19.24 L425.50,84.78 A58.5,58.5 0 0 0 424.35,85.15 Z" fill="#8ecf8c" stroke="#8ecf8c" stroke-width="2.6" stroke-linejoin="round"/>
<path d="M411.08,18.19 A126.5,126.5 0 0 1 419.12,16.38 L430.93,83.36 A58.5,58.5 0 0 0 429.25,83.74 Z" fill="#28a04a" stroke="#28a04a" stroke-width="2.6" stroke-linejoin="round"/>
<path d="M422.96,15.70 A126.5,126.5 0 0 1 430.03,14.77 L435.96,82.52 A58.5,58.5 0 0 0 434.77,82.68 Z" fill="#cf1f2f" stroke="#cf1f2f" stroke-width="2.6" stroke-linejoin="round"/>
<path d="M433.92,14.43 A126.5,126.5 0 0 1 441.05,14.12 L441.05,82.13 A58.5,58.5 0 0 0 439.85,82.19 Z" fill="#8a1520" stroke="#8a1520" stroke-width="2.6" stroke-linejoin="round"/>
<text transform="translate(321.60,109.99) rotate(14.15)" font-size="6.6" font-weight="bold" fill="#fff" letter-spacing="0.12" dy="2.3">AlCl<tspan font-size="4.4" dy="1">3</tspan><tspan dy="-1"> – Ur</tspan></text>
<text transform="translate(334.46,78.19) rotate(29.90)" font-size="6.6" font-weight="bold" fill="#fff" letter-spacing="0.12" dy="2.3">AlCl<tspan font-size="4.4" dy="1">3</tspan><tspan dy="-1"> – TEAHCl</tspan></text>
<text transform="translate(351.51,55.13) rotate(43.05)" font-size="6.6" font-weight="bold" fill="#fff" letter-spacing="0.12" dy="2.3">AlCl<tspan font-size="4.4" dy="1">3</tspan><tspan dy="-1"> – PMImCl</tspan></text>
<text transform="translate(364.21,43.30) rotate(51.00)" font-size="6.6" font-weight="bold" fill="#fff" letter-spacing="0.12" dy="2.3">AlCl<tspan font-size="4.4" dy="1">3</tspan><tspan dy="-1"> – BMImCl</tspan></text>
<text transform="translate(373.81,36.26) rotate(56.45)" font-size="6.6" font-weight="bold" fill="#fff" letter-spacing="0.12" dy="2.3">AlCl<tspan font-size="4.4" dy="1">3</tspan><tspan dy="-1"> – TMAHCl</tspan></text>
<text transform="translate(383.64,30.36) rotate(61.70)" font-size="6.6" font-weight="bold" fill="#fff" letter-spacing="0.12" dy="2.3">AlCl<tspan font-size="4.4" dy="1">3</tspan><tspan dy="-1"> – Ur – EMImCl</tspan></text>
<text transform="translate(393.98,25.40) rotate(66.95)" font-size="6.6" font-weight="bold" fill="#fff" letter-spacing="0.12" dy="2.3">AlCl<tspan font-size="4.4" dy="1">3</tspan><tspan dy="-1"> – MeUr</tspan></text>
<text transform="translate(404.31,21.53) rotate(72.00)" font-size="6.6" font-weight="bold" fill="#fff" letter-spacing="0.12" dy="2.3">AlCl<tspan font-size="4.4" dy="1">3</tspan><tspan dy="-1"> – EtUr</tspan></text>
<text transform="translate(415.37,18.49) rotate(77.25)" font-size="6.6" font-weight="bold" fill="#fff" letter-spacing="0.12" dy="2.3">AlCl<tspan font-size="4.4" dy="1">3</tspan><tspan dy="-1"> – TEBAC</tspan></text>
<text transform="translate(426.66,16.47) rotate(82.50)" font-size="6.6" font-weight="bold" fill="#fff" letter-spacing="0.12" dy="2.3">AlCl<tspan font-size="4.4" dy="1">3</tspan><tspan dy="-1"> – ImHCl</tspan></text>
<text transform="translate(437.54,15.52) rotate(87.50)" font-size="6.6" font-weight="bold" fill="#fff" letter-spacing="0.12" dy="2.3">AlCl<tspan font-size="4.4" dy="1">3</tspan><tspan dy="-1"> – Epy</tspan></text>
<text x="505.4" y="137.8" font-size="6.4" font-weight="bold" fill="#e6e6f2">AlCl<tspan font-size="4.2" dy="0.5">3</tspan><tspan dy="-0.5"> – EMImCl</tspan></text>
<text x="443.2" y="136.8" font-size="9.7" fill="#111" stroke="#111" stroke-width="0.25" text-anchor="middle" textLength="48.5" lengthAdjust="spacingAndGlyphs">Electrolytes</text>
<text x="443.3" y="148.8" font-size="9.7" fill="#111" stroke="#111" stroke-width="0.25" text-anchor="middle" textLength="50.5" lengthAdjust="spacingAndGlyphs">in Literature</text>
</svg></body></html>
